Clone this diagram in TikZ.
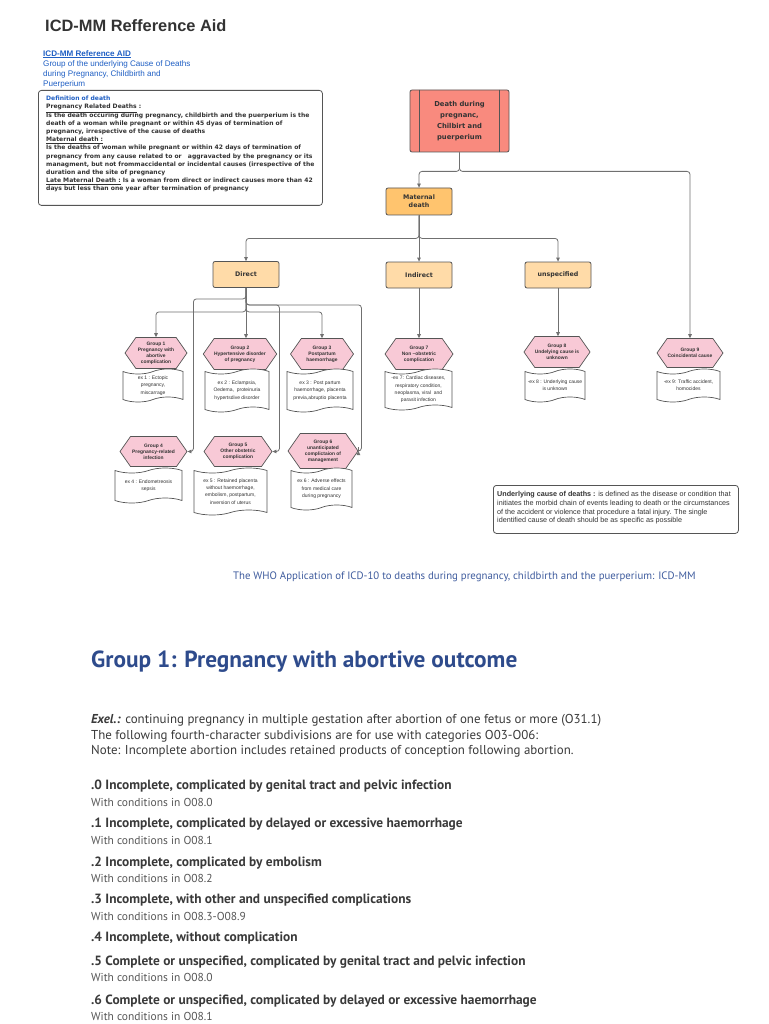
\documentclass[tikz,border=0pt]{standalone}
\usepackage{fontspec}
\setmainfont{Liberation Sans}
\newfontfamily\dvs{DejaVu Sans}
\newfontfamily\pts{PT Sans}
\usetikzlibrary{shapes.symbols,shapes.geometric,arrows.meta,calc}
\definecolor{boxline}{HTML}{555555}
\definecolor{linegray}{HTML}{707070}
\definecolor{txt}{HTML}{333333}
\definecolor{salmon}{HTML}{F98A7E}
\definecolor{maternal}{HTML}{FFC46E}
\definecolor{lightor}{HTML}{FFDBA8}
\definecolor{hexpink}{HTML}{F8C9D6}
\definecolor{linkblue}{HTML}{1F5FC4}
\definecolor{titlegray}{HTML}{333333}
\definecolor{capblue}{HTML}{3F5C9E}
\definecolor{headblue}{HTML}{2E4B8C}
\definecolor{bodygray}{HTML}{3A3A3A}
\begin{document}
\begin{tikzpicture}[x=1pt,y=-1pt,
  mainbox/.style={draw=boxline, line width=0.8pt, rounded corners=2pt,
    font=\dvs\bfseries\fontsize{6.3}{8}\selectfont, text=txt, align=center,
    inner sep=0pt, minimum width=66pt, minimum height=26pt},
  hexbox/.style={signal, signal to=east and west, signal pointer angle=110,
    draw=boxline, line width=0.7pt, fill=hexpink,
    font=\bfseries\fontsize{4.9}{6}\selectfont, align=center, inner sep=0pt,
    text=txt, minimum height=31pt},
  docbox/.style={tape, draw=boxline, line width=0.7pt, fill=white,
    font=\fontsize{5}{7.3}\selectfont, align=center, inner sep=0pt,
    tape bend height=5pt, text=txt},
  conn/.style={draw=linegray, line width=0.8pt, rounded corners=3pt,
    -{Triangle[length=4pt,width=3.6pt]}},
  plain/.style={inner sep=0pt, anchor=west},
  lowreg/.style={plain, font=\pts\fontsize{12.9}{14}\selectfont, text=bodygray},
  lowbold/.style={plain, font=\pts\bfseries\fontsize{13.4}{15}\selectfont, text=bodygray},
  lowsub/.style={plain, font=\pts\fontsize{11.5}{14}\selectfont, text=bodygray!85}
]
\useasboundingbox[fill=white] (0,0) rectangle (768,1024);

% ---- header text
\node[plain, font=\bfseries\fontsize{16.4}{18}\selectfont, text=titlegray] (title) at (45,26) {ICD-MM Refference Aid};
\node[inner sep=0pt, anchor=north west, align=left, font=\fontsize{8.1}{10}\selectfont, text=linkblue] (sub) at (43,50)
  {\textbf{\underline{ICD-MM Reference AID}}\\Group of the underlying Cause of Deaths\\during Pregnancy, Childbirth and\\Puerperium};

% ---- definition box
\node[draw=boxline, line width=0.8pt, rounded corners=3pt, minimum width=284pt, minimum height=115pt, anchor=north west, inner sep=0pt] (defbox) at (38,90) {};
\node[inner sep=0pt, anchor=north west, align=left, text=txt, font=\dvs\bfseries\fontsize{6.05}{8.2}\selectfont] (deftext) at ($(defbox.north west)+(8,6)$)
  {{\color{linkblue}Definition of death}\\
   \underline{Pregnancy Related Deaths} :\\
   Is the death occuring during pregnancy, childbirth and the puerperium is the\\
   death of a woman while pregnant or within 45 dyas of termination of\\
   pregnancy, irrespective of the cause of deaths\\
   \underline{Maternal death :}\\
   Is the deaths of woman while pregnant or within 42 days of termination of\\
   pregnancy from any cause related to or \ \ aggravacted by the pregnancy or its\\
   managment, but not frommaccidental or incidental causes (irrespective of the\\
   duration and the site of pregnancy\\
   \underline{Late Maternal Death :} Is a woman from direct or indirect causes more than 42\\
   days but less than one year after termination of pregnancy};

% ---- main flow nodes
\node[mainbox, fill=salmon, minimum width=99pt, minimum height=62pt, font=\dvs\bfseries\fontsize{6.8}{11}\selectfont] (top) at (459.5,121) {Death during\\pregnanc,\\Chilbirt and\\puerperium};
\draw[boxline, line width=0.8pt] ($(top.north west)+(10,0)$) -- ($(top.south west)+(10,0)$);
\draw[boxline, line width=0.8pt] ($(top.north east)+(-10,0)$) -- ($(top.south east)+(-10,0)$);

\node[mainbox, fill=maternal, minimum height=27pt] (maternal) at (419,201.5) {Maternal\\death};
\node[mainbox, fill=lightor] (direct) at (246,274.5) {Direct};
\node[mainbox, fill=lightor] (indirect) at (419,275) {Indirect};
\node[mainbox, fill=lightor] (unspec) at (558,275) {unspecified};

% ---- groups row 1
\node[hexbox, minimum width=62pt] (g1) at (156,353) {Group 1\\Pregnancy with\\abortive\\complication};
\node[hexbox, minimum width=70pt] (g2) at (240,354) {Group 2\\Hypertensive disorder\\of pregnancy};
\node[hexbox, minimum width=63pt] (g3) at (322,354) {Group 3\\Postpartum\\haemorrhage};
\node[hexbox, minimum width=68pt] (g7) at (419,354) {Group 7\\Non --obstetric\\complication};
\node[hexbox, minimum width=62pt] (g8) at (557,352) {Group 8\\Undelying cause is\\unknown};
\node[hexbox, minimum width=66pt, minimum height=29pt] (g9) at (690,353) {Group 9\\Coincidental cause};

\node[docbox, minimum width=60pt, minimum height=33pt] (d1) at (153,385.5) {ex 1 : Ectopic\\pregnancy,\\miscarrage};
\node[docbox, minimum width=64pt, minimum height=43pt] (d2) at (237,390.5) {ex 2 : Eclampsia,\\Oedema, \ proteinuria\\hypertsdive disorder};
\node[docbox, minimum width=66pt, minimum height=43pt] (d3) at (320,390.5) {ex 3 : Post partum\\haemorrhage, placenta\\previa,abruptio placenta};
\node[docbox, minimum width=67pt, minimum height=41pt] (d7) at (418.5,389.5) {-ex 7: Cardiac diseases,\\respiratory condition,\\neoplasma, viral \ and\\parasit infection};
\node[docbox, minimum width=60pt, minimum height=33pt] (d8) at (555,385.5) {-ex 8 : Underlying cause\\is unknown};
\node[docbox, minimum width=63pt, minimum height=33pt] (d9) at (688.5,385.5) {-ex 9: Traffic accident,\\homocides};

% ---- groups row 2
\node[hexbox, minimum width=67pt, minimum height=30pt] (g4) at (153.5,451.5) {Group 4\\Pregnancy-related\\infection};
\node[hexbox, minimum width=68pt, minimum height=30pt] (g5) at (238,451.5) {Group 5\\Other obstetric\\complication};
\node[hexbox, minimum width=70pt, minimum height=35pt] (g6) at (323,451) {Group 6\\unanticipated\\complictaion of\\management};

\node[docbox, minimum width=67pt, minimum height=35pt] (d4) at (148.5,485.5) {ex 4 : Endometreosis\\sepsis};
\node[docbox, minimum width=73pt, minimum height=47pt] (d5) at (230.5,491.5) {ex 5 : Retained placenta\\without haemorrhage,\\embolism, postpartum,\\inversion of uterus};
\node[docbox, minimum width=61pt, minimum height=42pt] (d6) at (321.5,489) {ex 6 : Adverse effects\\from medical care\\during pregnancy};

% ---- connectors
\draw[conn] (top.south) -- ($(top.south)+(0,19)$) -| (maternal.north);
\draw[conn] (top.south) -- ($(top.south)+(0,19)$) -| (g9.north);
\draw[conn] (maternal.south) -- ($(maternal.south)+(0,23)$) -| (direct.north);
\draw[conn] (maternal.south) -- (indirect.north);
\draw[conn] (maternal.south) -- ($(maternal.south)+(0,23)$) -| (unspec.north);

\draw[conn] (direct.south) -- ($(direct.south)+(0,24)$) -| (g1.north);
\draw[conn] (direct.south) -- (direct.south |- g2.north);
\draw[conn] (direct.south) -- ($(direct.south)+(0,24)$) -| (g3.north);
\draw[conn] (direct.south) -- ($(direct.south)+(0,11)$) -| ($(g4.east)+(6,0)$) -- (g4.east);
\draw[conn] (direct.south) -- ($(direct.south)+(0,17)$) -| ($(g5.east)+(7,0)$) -- (g5.east);
\draw[conn] (direct.south) -- ($(direct.south)+(0,17)$) -| ($(g6.east)+(3,0)$) -- (g6.east);

\draw[conn] (indirect.south) -- (g7.north);
\draw[conn] (unspec.south) -- (unspec.south |- g8.north);

% ---- underlying cause box
\node[draw=boxline, line width=0.8pt, rounded corners=3pt, minimum width=245pt, minimum height=48pt, anchor=north west, inner sep=0pt] (ucbox) at (493,485) {};
\node[inner sep=0pt, anchor=north west, align=left, text=txt, font=\fontsize{7.2}{8.8}\selectfont] (uctext) at ($(ucbox.north west)+(4,6)$)
  {\textbf{Underlying cause of deaths :} is defined as the disease or condition that\\
   initiates the morbid chain of events leading to death or the circumstances\\
   of the accident or violence that procedure a fatal injury. The single\\
   identified cause of death should be as specific as possible};

% ---- lower section
\node[plain, font=\pts\fontsize{10.8}{12}\selectfont, text=capblue] (caption) at (233,577) {The WHO Application of ICD-10 to deaths during pregnancy, childbirth and the puerperium: ICD-MM};
\node[plain, font=\pts\bfseries\fontsize{23.3}{26}\selectfont, text=headblue] (heading) at (91,662) {Group 1: Pregnancy with abortive outcome};

\node[lowreg] (l1) at (91,720) {\textbf{\textit{Exel.:}} continuing pregnancy in multiple gestation after abortion of one fetus or more (O31.1)};
\node[lowreg] (l2) at (91,736) {The following fourth-character subdivisions are for use with categories O03-O06:};
\node[lowreg] (l3) at (91,751) {Note: Incomplete abortion includes retained products of conception following abortion.};

\node[lowbold] (i0) at (91,786) {.0 Incomplete, complicated by genital tract and pelvic infection};
\node[lowsub] (s0) at (91,802) {With conditions in O08.0};
\node[lowbold] (i1) at (91,824) {.1 Incomplete, complicated by delayed or excessive haemorrhage};
\node[lowsub] (s1) at (91,840) {With conditions in O08.1};
\node[lowbold] (i2) at (91,863) {.2 Incomplete, complicated by embolism};
\node[lowsub] (s2) at (91,878) {With conditions in O08.2};
\node[lowbold] (i3) at (91,900) {.3 Incomplete, with other and unspecified complications};
\node[lowsub] (s3) at (91,916) {With conditions in O08.3-O08.9};
\node[lowbold] (i4) at (91,938) {.4 Incomplete, without complication};
\node[lowbold] (i5) at (91,962) {.5 Complete or unspecified, complicated by genital tract and pelvic infection};
\node[lowsub] (s5) at (91,977) {With conditions in O08.0};
\node[lowbold] (i6) at (91,1001) {.6 Complete or unspecified, complicated by delayed or excessive haemorrhage};
\node[lowsub] (s6) at (91,1016) {With conditions in O08.1};
\end{tikzpicture}
\end{document}
